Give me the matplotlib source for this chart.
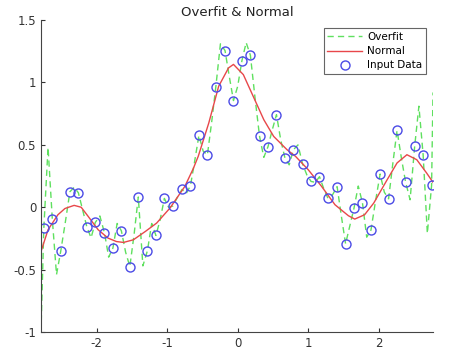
import numpy as np
import matplotlib
matplotlib.use("Agg")
import matplotlib.pyplot as plt

# input samples
x_in = [-2.75, -2.63, -2.51, -2.38, -2.26, -2.14, -2.02, -1.89, -1.77, -1.65,
        -1.53, -1.41, -1.28, -1.16, -1.04, -0.92, -0.79, -0.67, -0.55, -0.43,
        -0.31, -0.18, -0.06, 0.06, 0.18, 0.31, 0.43, 0.55, 0.67, 0.79,
        0.92, 1.04, 1.16, 1.28, 1.41, 1.53, 1.65, 1.77, 1.89, 2.02,
        2.14, 2.26, 2.38, 2.51, 2.63, 2.75]
y_in = [-0.167, -0.092, -0.352, 0.124, 0.116, -0.157, -0.122, -0.205, -0.327, -0.189,
        -0.475, 0.082, -0.347, -0.226, 0.071, 0.010, 0.143, 0.173, 0.576, 0.419,
        0.967, 1.256, 0.855, 1.176, 1.218, 0.568, 0.486, 0.742, 0.395, 0.461,
        0.347, 0.207, 0.245, 0.071, 0.165, -0.293, -0.006, 0.034, -0.183, 0.266,
        0.068, 0.616, 0.205, 0.488, 0.421, 0.175]

# overfit curve values half way between samples
over_mid = [0.48, -0.54, -0.12, 0.16, -0.02, -0.245, -0.07, -0.40, -0.13, -0.36,
            -0.22, -0.47, -0.13, -0.10, 0.00, 0.08, 0.11, 0.37, 0.45, 0.68,
            1.31, 1.05, 0.97, 1.32, 0.88, 0.40, 0.62, 0.54, 0.34, 0.50,
            0.26, 0.20, 0.15, 0.10, -0.07, -0.15, 0.17, -0.24, 0.05, 0.12,
            0.35, 0.40, 0.06, 0.81, -0.21]
over_ends_x = [-2.79, 2.77]
over_ends_y = [-1.0, 0.92]

# normal fit curve
norm_x = [-2.79, -2.69, -2.55, -2.45, -2.32, -2.22, -2.12, -1.98, -1.84, -1.72,
          -1.62, -1.48, -1.31, -1.15, -0.96, -0.75, -0.63, -0.56, -0.41, -0.27,
          -0.13, -0.06, 0.08, 0.22, 0.37, 0.51, 0.70, 0.82, 1.00, 1.19,
          1.38, 1.57, 1.66, 1.80, 1.93, 2.12, 2.26, 2.40, 2.54, 2.68, 2.77]
norm_y = [-0.355, -0.18, -0.06, -0.01, 0.015, 0.0, -0.074, -0.18, -0.247, -0.275,
          -0.282, -0.261, -0.194, -0.127, -0.006, 0.167, 0.31, 0.408, 0.676, 0.97,
          1.117, 1.145, 1.063, 0.889, 0.702, 0.568, 0.461, 0.408, 0.301, 0.167,
          0.02, -0.068, -0.095, -0.06, 0.034, 0.221, 0.355, 0.421, 0.381, 0.274, 0.20]

xi = np.array(x_in)
mids = (xi[:-1] + xi[1:]) / 2
ox = [over_ends_x[0]]
oy = [over_ends_y[0]]
for i in range(len(x_in)):
    ox.append(x_in[i]); oy.append(y_in[i])
    if i < len(mids):
        ox.append(mids[i]); oy.append(over_mid[i])
ox.append(over_ends_x[1]); oy.append(over_ends_y[1])

fig = plt.figure(figsize=(4.74, 3.53), dpi=100)
ax = fig.add_axes([0.0865, 0.0595, 0.827, 0.8835])

ax.plot(ox, oy, '--', color='#5fe05f', lw=1.0, dashes=(4.5, 3), label='Overfit')
ax.plot(norm_x, norm_y, '-', color='#e8474a', lw=1.0, label='Normal')
ax.plot(x_in, y_in, 'o', mfc='none', mec='#4b4be6', ms=6.5, mew=1.0,
        label='Input Data', linestyle='none')

ax.set_xlim(-2.79, 2.77)
ax.set_ylim(-1, 1.5)
ax.set_xticks([-2, -1, 0, 1, 2])
ax.set_xticklabels(['-2', '-1', '0', '1', '2'])
ax.set_yticks([-1, -0.5, 0, 0.5, 1, 1.5])
ax.set_yticklabels(['-1', '-0.5', '0', '0.5', '1', '1.5'])
ax.tick_params(direction='in', length=3, labelsize=8.5, colors='#333333',
               top=False, right=False)
for s in ['top', 'right']:
    ax.spines[s].set_visible(False)
for s in ['left', 'bottom']:
    ax.spines[s].set_color('#444444')
    ax.spines[s].set_linewidth(0.8)

ax.set_title('Overfit & Normal', fontsize=9.5, color='#222222', pad=3)

leg = ax.legend(loc='upper right', bbox_to_anchor=(0.995, 0.99), fontsize=7.5,
                fancybox=False, framealpha=1, edgecolor='#666666',
                handlelength=3.3, borderpad=0.35, labelspacing=0.4,
                handletextpad=0.5)
leg.get_frame().set_linewidth(0.8)

fig.savefig('out.png', dpi=100)
